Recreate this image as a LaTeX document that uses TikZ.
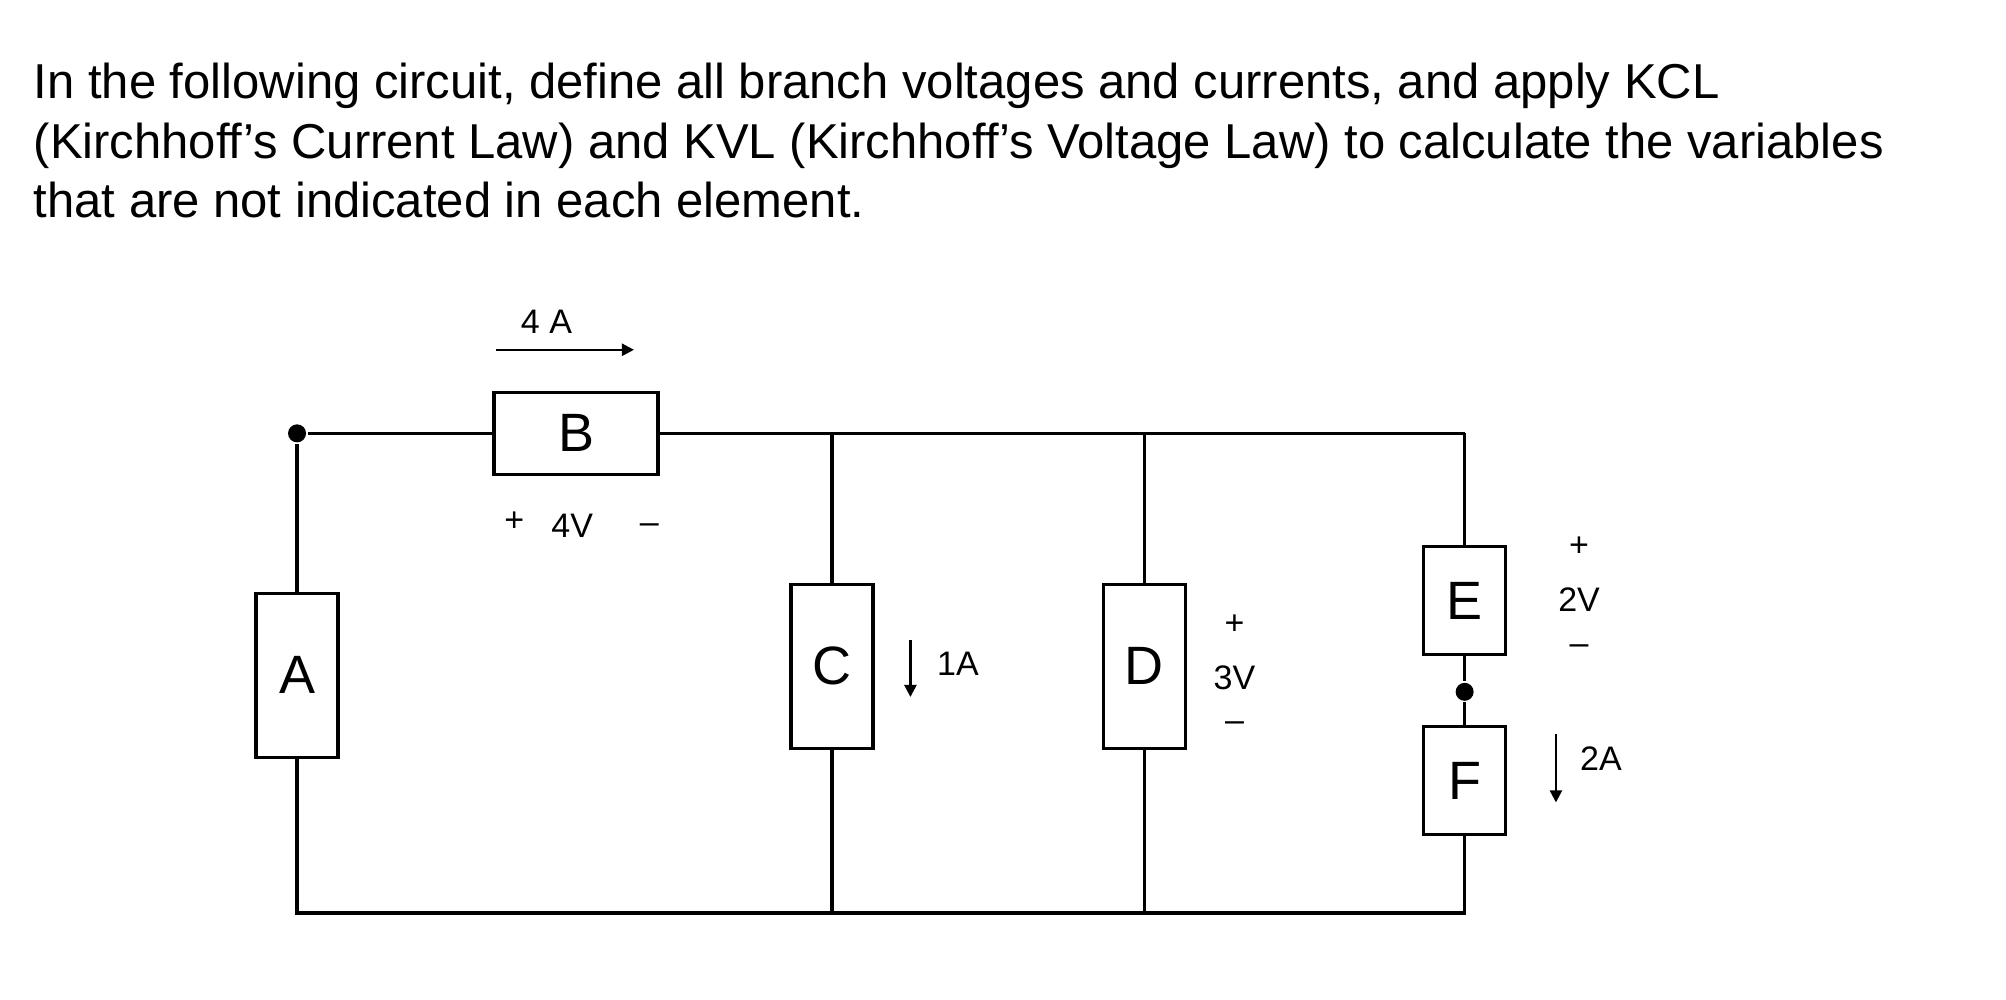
\documentclass[tikz,border=0pt]{standalone}
\usepackage{fontspec}
\setmainfont{Liberation Sans}
\usetikzlibrary{arrows.meta}
\begin{document}
\begin{tikzpicture}[x=0.643pt,y=-0.643pt,line width=1.6pt,
  elem/.style={draw,fill=white,minimum width=41pt,minimum height=82pt,inner sep=0pt,font=\fontsize{27}{27}\selectfont},
  lbl/.style={font=\fontsize{17}{17}\selectfont,inner sep=0pt},
  cur/.style={-{Triangle[length=6pt,width=6pt]},line width=1.2pt},
  dot/.style={circle,fill,inner sep=0pt,minimum size=9pt}]
\useasboundingbox (0,0) rectangle (1560,777);

% Enunciado
\node[anchor=north west,inner sep=0pt,align=left,
  font=\fontsize{24.5}{29.6}\selectfont] (txt) at (25,48)
  {In the following circuit, define all branch voltages and currents, and apply KCL\\
   (Kirchhoff’s Current Law) and KVL (Kirchhoff’s Voltage Law) to calculate the variables\\
   that are not indicated in each element.};

% Nudos
\coordinate (tl) at (231,337);
\coordinate (bl) at (231,710);
\coordinate (tc) at (647,337);
\coordinate (bc) at (647,710);
\coordinate (td) at (890,337);
\coordinate (bd) at (890,710);
\coordinate (tr) at (1139,337);
\coordinate (br) at (1139,710);

% Elementos
\node[elem] (A) at (231,525) {A};
\node[elem,minimum width=82pt,minimum height=41pt] (B) at (448,337) {B};
\node[elem] (C) at (647,518) {C};
\node[elem] (D) at (890,518) {D};
\node[elem,minimum height=54pt] (E) at (1139,467) {E};
\node[elem,minimum height=54pt] (F) at (1139,607) {F};
\node[dot] (n1) at (tl) {};
\node[dot] (n2) at (1139,538) {};

% Cables
\draw (n1) -- (B.west);
\draw (B.east) -- (tr);
\draw (n1) -- (A.north);
\draw (A.south) -- (bl) -- (br) -- (F.south);
\draw (tc) -- (C.north);
\draw (C.south) -- (bc);
\draw (td) -- (D.north);
\draw (D.south) -- (bd);
\draw (tr) -- (E.north);
\draw (E.south) -- (n2) -- (F.north);

% Etiquetas
\node[lbl] (iB) at (425,250) {4 A};
\coordinate (iB1) at (386,272);
\coordinate (iB2) at (493,272);
\draw[cur] (iB1) -- (iB2);
\node[lbl] (pB) at (400,406) {+};
\node[lbl] (vB) at (445,409) {4V};
\node[lbl] (mB) at (505,411) {–};

\coordinate (iC1) at (708,498);
\coordinate (iC2) at (708,542);
\draw[cur] (iC1) -- (iC2);
\node[lbl] (iC) at (745,516) {1A};

\node[lbl] (pD) at (960,486) {+};
\node[lbl] (vD) at (960,527) {3V};
\node[lbl] (mD) at (960,565) {–};

\node[lbl] (pE) at (1228,425) {+};
\node[lbl] (vE) at (1228,466) {2V};
\node[lbl] (mE) at (1228,505) {–};

\coordinate (iF1) at (1210,571);
\coordinate (iF2) at (1210,624);
\draw[cur] (iF1) -- (iF2);
\node[lbl] (iF) at (1245,590) {2A};
\end{tikzpicture}
\end{document}
